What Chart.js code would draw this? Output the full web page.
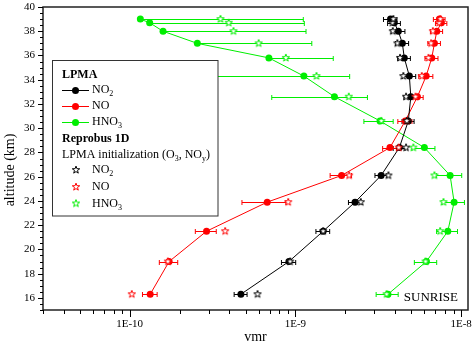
<!DOCTYPE html>
<html><head><meta charset="utf-8">
<script src="https://cdn.jsdelivr.net/npm/chart.js@4"></script>
<style>html,body{margin:0;padding:0;background:#fff}#wrap{width:474px;height:353px}</style>
</head><body><div id="wrap"><canvas id="c" width="474" height="353"></canvas></div>
<script>
// ---- data ----
const altitudes = [16.3, 19.0, 21.5, 23.9, 26.1, 28.4, 30.6, 32.6, 34.3, 35.8, 37.0, 38.0, 38.7, 39.0];

const no2Lpma    = [4.69e-10, 9.14e-10, 1.47e-9, 2.29e-9, 3.29e-9, 4.24e-9, 4.80e-9, 4.97e-9, 4.87e-9, 4.54e-9, 4.42e-9, 4.18e-9, 3.95e-9, 3.75e-9];
const no2LpmaErr = [0.42e-10, 0.9e-10, 0.14e-9, 0.2e-9, 0.27e-9, 0.35e-9, 0.4e-9, 0.45e-9, 0.45e-9, 0.4e-9, 0.4e-9, 0.4e-9, 0.35e-9, 0.35e-9];
const no2Model   = [5.91e-10, 9.3e-10, 1.47e-9, 2.48e-9, 3.64e-9, 4.65e-9, 4.70e-9, 4.65e-9, 4.48e-9, 4.28e-9, 4.12e-9, 3.87e-9, 3.85e-9, 3.90e-9];

const noLpma     = [1.33e-10, 1.73e-10, 2.91e-10, 6.76e-10, 1.90e-9, 3.72e-9, 4.60e-9, 5.45e-9, 6.15e-9, 6.65e-9, 6.90e-9, 7.13e-9, 7.60e-9, 7.40e-9];
const noLpmaErr  = [0.135e-10, 0.22e-10, 0.42e-10, 2.0e-10, 0.28e-9, 0.36e-9, 0.45e-9, 0.45e-9, 0.6e-9, 0.6e-9, 0.6e-9, 0.6e-9, 0.6e-9, 0.6e-9];
const noModel    = [1.03e-10, 1.70e-10, 3.77e-10, 9.05e-10, 2.11e-9, 4.20e-9, 4.70e-9, 5.30e-9, 5.79e-9, 6.35e-9, 6.59e-9, 6.75e-9, 7.36e-9, 7.50e-9];

const hno3Lpma    = [3.62e-9, 6.17e-9, 8.31e-9, 9.07e-9, 8.58e-9, 6.0e-9, 3.24e-9, 1.72e-9, 1.125e-9, 6.92e-10, 2.56e-10, 1.59e-10, 1.32e-10, 1.16e-10];
const hno3LpmaErr = [0.55e-9, 0.95e-9, 1.2e-9, 1.4e-9, 1.5e-9, 0.95e-9, 0.65e-9, 1.0e-9, 1.0e-9, 1.0e-9, 1.0e-9, 1.0e-9, 1.0e-9, 1.0e-9];
const hno3Model   = [3.55e-9, 6.1e-9, 7.47e-9, 7.82e-9, 6.9e-9, 5.15e-9, 3.3e-9, 2.10e-9, 1.34e-9, 8.76e-10, 6.0e-10, 4.23e-10, 3.96e-10, 3.53e-10];

const xMajorTicks = [1e-10, 1e-9, 1e-8];
const xTickLabels = ['1E-10', '1E-9', '1E-8'];
const yTickValues = [16, 18, 20, 22, 24, 26, 28, 30, 32, 34, 36, 38, 40];

// ---- styles ----
const BLACK = '#000000', RED = '#ff0000', GREEN = '#00ee00';
const SERIF = 'Liberation Serif, Times New Roman, serif';

function starImg(color) {
  const s = 12, c = document.createElement('canvas');
  c.width = s; c.height = s;
  const g = c.getContext('2d');
  const R = 3.9, r = 1.6;
  g.beginPath();
  for (let i = 0; i < 10; i++) {
    const a = -Math.PI / 2 + i * Math.PI / 5;
    const rr = i % 2 ? r : R;
    g.lineTo(s / 2 + rr * Math.cos(a), s / 2 + rr * Math.sin(a));
  }
  g.closePath();
  g.fillStyle = '#fff'; g.fill();
  g.strokeStyle = color; g.lineWidth = 1; g.stroke();
  return c;
}
const stars = {k: starImg(BLACK), r: starImg(RED), g: starImg(GREEN)};

function pts(vals) { return vals.map((v, i) => ({x: v, y: altitudes[i]})); }

function lpmaSet(label, vals, errs, color) {
  return {label, data: pts(vals), errs, showLine: true, borderColor: color, backgroundColor: color,
    borderWidth: 1, pointRadius: 3.5, pointBorderWidth: 0, pointHoverRadius: 3.5, order: 1};
}
function modelSet(label, vals, img) {
  return {label, data: pts(vals), showLine: false, pointStyle: img, pointRadius: 4, order: 0,
    borderColor: 'rgba(0,0,0,0)', backgroundColor: 'rgba(0,0,0,0)'};
}

const decor = {
  id: 'decor',
  beforeDatasetsDraw(chart) {
    const {ctx, chartArea: ca, scales: {x, y}} = chart;
    ctx.save();
    ctx.beginPath(); ctx.rect(ca.left, ca.top, ca.right - ca.left, ca.bottom - ca.top); ctx.clip();
    chart.data.datasets.forEach(ds => {
      if (!ds.errs) return;
      ctx.strokeStyle = ds.borderColor; ctx.lineWidth = 1;
      ds.data.forEach((p, i) => {
        const e = ds.errs[i];
        const py = Math.round(y.getPixelForValue(p.y)) + 0.5;
        const xr = x.getPixelForValue(p.x + e);
        const lo = p.x - e;
        const xl = lo > 0 ? x.getPixelForValue(lo) : x.getPixelForValue(p.x);
        ctx.beginPath();
        ctx.moveTo(xl, py); ctx.lineTo(xr, py);
        ctx.moveTo(xr, py - 2.5); ctx.lineTo(xr, py + 2.5);
        if (lo > 0) { ctx.moveTo(xl, py - 2.5); ctx.lineTo(xl, py + 2.5); }
        ctx.stroke();
      });
    });
    ctx.restore();
  },
  afterDraw(chart) {
    const {ctx, chartArea: ca, scales: {x, y}} = chart;
    ctx.save();
    // frame
    ctx.strokeStyle = '#222'; ctx.lineWidth = 1.5;
    ctx.strokeRect(ca.left, ca.top, ca.right - ca.left, ca.bottom - ca.top);
    // y ticks
    ctx.lineWidth = 1; ctx.strokeStyle = '#000';
    ctx.beginPath();
    for (let v = 15; v <= 40.001; v += 0.5) {
      const py = Math.round(y.getPixelForValue(v)) + 0.5;
      const len = (Math.abs(v % 2) < 1e-6) ? 5 : 3;
      ctx.moveTo(ca.left, py); ctx.lineTo(ca.left - len, py);
    }
    // x ticks
    for (let e = -11; e <= -8; e++) {
      for (let k = 1; k <= 9; k++) {
        const v = k * Math.pow(10, e);
        if (v < x.min * 0.999 || v > x.max * 1.001) continue;
        const px = Math.round(x.getPixelForValue(v)) + 0.5;
        const len = k === 1 ? 7 : 4;
        ctx.moveTo(px, ca.bottom); ctx.lineTo(px, ca.bottom + len);
      }
    }
    ctx.stroke();
    // y title
    ctx.fillStyle = '#000';
    ctx.font = '14px ' + SERIF;
    ctx.textAlign = 'center'; ctx.textBaseline = 'middle';
    ctx.save(); ctx.translate(10, 170); ctx.rotate(-Math.PI / 2); ctx.fillText('altitude (km)', 0, 0); ctx.restore();
    // SUNRISE
    ctx.font = '13px ' + SERIF; ctx.textAlign = 'right';
    ctx.fillText('SUNRISE', 458, 298);
    // legend
    const L = 52.5, T = 60.5, W = 165.5, H = 155.5;
    ctx.fillStyle = '#fff'; ctx.fillRect(L, T, W, H);
    ctx.strokeStyle = '#333'; ctx.lineWidth = 1; ctx.strokeRect(L, T, W, H);
    ctx.fillStyle = '#000'; ctx.textAlign = 'left'; ctx.textBaseline = 'middle';
    function rich(parts, x0, y0) {
      let cx = x0;
      parts.forEach(([t, sub]) => {
        ctx.font = sub ? '8px ' + SERIF : '12px ' + SERIF;
        ctx.fillText(t, cx, y0 + (sub ? 4 : 0));
        cx += ctx.measureText(t).width;
      });
    }
    ctx.font = 'bold 12px ' + SERIF; ctx.fillText('LPMA', 62, 75);
    const lines = [[90, BLACK, [['NO'], ['2', 1]]], [106, RED, [['NO']]], [122, GREEN, [['HNO'], ['3', 1]]]];
    lines.forEach(([ly, col, parts]) => {
      ctx.strokeStyle = col; ctx.lineWidth = 1;
      ctx.beginPath(); ctx.moveTo(62, ly + 0.5); ctx.lineTo(89, ly + 0.5); ctx.stroke();
      ctx.fillStyle = col; ctx.beginPath(); ctx.arc(75.5, ly + 0.5, 3.5, 0, Math.PI * 2); ctx.fill();
      ctx.fillStyle = '#000'; rich(parts, 92, ly);
    });
    ctx.font = 'bold 12px ' + SERIF; ctx.fillText('Reprobus 1D', 62, 139);
    rich([['LPMA initialization (O'], ['3', 1], [', NO'], ['y', 1], [')']], 62, 154.5);
    const sl = [[170, stars.k, [['NO'], ['2', 1]]], [187, stars.r, [['NO']]], [203.5, stars.g, [['HNO'], ['3', 1]]]];
    sl.forEach(([ly, img, parts]) => {
      ctx.drawImage(img, 76 - 6, ly - 6);
      ctx.fillStyle = '#000'; rich(parts, 92, ly);
    });
    ctx.restore();
  }
};

Chart.defaults.font.family = SERIF;
Chart.defaults.color = '#000';

new Chart(document.getElementById('c'), {
  type: 'scatter',
  data: {
    datasets: [
      modelSet('NO2 Reprobus', no2Model, stars.k),
      modelSet('NO Reprobus', noModel, stars.r),
      modelSet('HNO3 Reprobus', hno3Model, stars.g),
      lpmaSet('NO2 LPMA', no2Lpma, no2LpmaErr, BLACK),
      lpmaSet('NO LPMA', noLpma, noLpmaErr, RED),
      lpmaSet('HNO3 LPMA', hno3Lpma, hno3LpmaErr, GREEN)
    ]
  },
  options: {
    responsive: false, animation: false, devicePixelRatio: 1,
    layout: {padding: {top: 7, right: 6, left: 0, bottom: 0}},
    plugins: {legend: {display: false}, tooltip: {enabled: false}},
    scales: {
      x: {
        type: 'logarithmic', position: 'bottom', min: 3e-11, max: 1.1e-8,
        grid: {display: false, drawTicks: false}, border: {display: false},
        afterBuildTicks: s => { s.ticks = xMajorTicks.map(v => ({value: v, major: true})); },
        afterFit: s => { s.height = 43; s.paddingLeft = 0; s.paddingRight = 0; },
        ticks: {autoSkip: false, maxRotation: 0, padding: 8, font: {size: 11, family: SERIF},
          callback: (v) => { const i = xMajorTicks.findIndex(t => Math.abs(t - v) / t < 1e-6); return i >= 0 ? xTickLabels[i] : ''; }},
        title: {display: true, text: 'vmr', font: {size: 14, family: SERIF}, padding: {top: 0, bottom: 7}}
      },
      y: {
        type: 'linear', min: 15, max: 40,
        grid: {display: false, drawTicks: false}, border: {display: false},
        afterBuildTicks: s => { s.ticks = yTickValues.map(v => ({value: v})); },
        afterFit: s => { s.width = 43; s.paddingTop = 0; s.paddingBottom = 0; },
        ticks: {padding: 8, font: {size: 11, family: SERIF}, callback: v => String(v)}
      }
    }
  },
  plugins: [decor]
});
</script>
</body></html>
